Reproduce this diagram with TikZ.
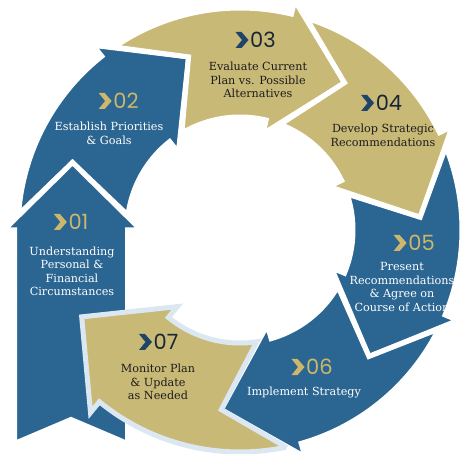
\documentclass[tikz,border=0pt]{standalone}
\usepackage{fontspec}
\setmainfont{DejaVu Serif}
\newfontfamily\numfont{Poppins}
\usetikzlibrary{calc}
\definecolor{ringblue}{HTML}{2B6591}
\definecolor{ringgold}{HTML}{C9B977}
\definecolor{numgold}{HTML}{CDB76C}
\definecolor{darktext}{HTML}{1C1C1C}
\definecolor{numdark}{HTML}{182636}
\definecolor{chevnavy}{HTML}{1F4468}
\definecolor{paleblue}{HTML}{DCE8F1}
\newcommand\router{222}
\newcommand\rinner{113}
% curved arrow segment: #1 tail angle, #2 head angle, #3 fill, #4 border
\newcommand\ringarrow[4]{%
  \filldraw[fill=#3, draw=#4, line width=5pt, line join=miter]
    ($(C)+(#1:\router)+(#1+90:15)$)
    -- plot[domain=#1+4:#2, samples=40] ({240+\router*cos(\x)},{230+\router*sin(\x)})
    -- ($(C)+(#2:236)$)
    -- ($(C)+(#2:167.5)+(#2+90:67.5)$)
    -- ($(C)+(#2:99)$)
    -- plot[domain=#2:#1+7.5, samples=40] ({240+\rinner*cos(\x)},{230+\rinner*sin(\x)})
    -- ($(C)+(#1:167.5)+(#1+90:67.5)$)
    -- cycle;}
% number label with chevron: #1 id, #2 x, #3 y, #4 number colour, #5 chevron colour, #6 number
\newcommand\steplabel[6]{%
  \node[numstyle, text=#4] (num#1) at (#2+8,#3) {#6};
  \path ($(num#1.west)+(-8,0)$) pic[#5]{chevmark};}
\begin{document}
\begin{tikzpicture}[x=1pt,y=-1pt,
  numstyle/.style={inner sep=0pt, font=\numfont\fontsize{21}{21}\selectfont},
  txt/.style={align=center, inner sep=0pt, font=\fontsize{11.2}{13.4}\selectfont},
  chevmark/.pic={\fill (-6.5,-8) -- (-0.5,-8) -- (6.5,0) -- (-0.5,8) -- (-6.5,8) -- (0,0) -- cycle;}]
\useasboundingbox (0,0) rectangle (474,454);
\coordinate (C) at (240,230);
% arrows 02 - 06
\ringarrow{180}{231.5}{ringblue}{white}
\ringarrow{231.5}{283.4}{ringgold}{white}
\ringarrow{283.4}{334}{ringgold}{white}
\ringarrow{334}{382.5}{ringblue}{white}
\ringarrow{382.5}{434}{ringblue}{white}
% arrow 01 (straight)
\filldraw[fill=ringblue, draw=white, line width=5pt, line join=miter]
  (127.5,443.5) -- (127.5,230) -- ($(C)+(180:99)$)
  -- ($(C)+(180:167.5)+(270:67.5)$) -- ($(C)+(180:236)$)
  -- (14.5,230) -- (14.5,443.5) -- (71,419.5) -- cycle;
% arrow 07
\ringarrow{434}{489.3}{ringgold}{paleblue}
% labels
\steplabel{1}{70.5}{222}{numgold}{numgold}{01}
\node[txt, text=white] (t1) at (72,271.5) {Understanding\\Personal \&\\Financial\\Circumstances};
\steplabel{2}{118}{101}{numgold}{numgold}{02}
\node[txt, text=white] (t2) at (109,133.5) {Establish Priorities\\\& Goals};
\steplabel{3}{255}{40}{numdark}{chevnavy}{03}
\node[txt, text=darktext] (t3) at (258,80) {Evaluate Current\\Plan vs. Possible\\Alternatives};
\steplabel{4}{381}{103}{numdark}{chevnavy}{04}
\node[txt, text=darktext] (t4) at (383,135.5) {Develop Strategic\\Recommendations};
\steplabel{5}{413.5}{243}{numgold}{numgold}{05}
\node[txt, text=white] (t5) at (402,287) {Present\\Recommendations\\\& Agree on\\Course of Action};
\steplabel{6}{311.5}{367}{numgold}{numgold}{06}
\node[txt, text=white] (t6) at (304,392) {Implement Strategy};
\steplabel{7}{158}{342}{numdark}{chevnavy}{07}
\node[txt, text=darktext] (t7) at (158,382) {Monitor Plan\\\& Update\\as Needed};
\end{tikzpicture}
\end{document}
